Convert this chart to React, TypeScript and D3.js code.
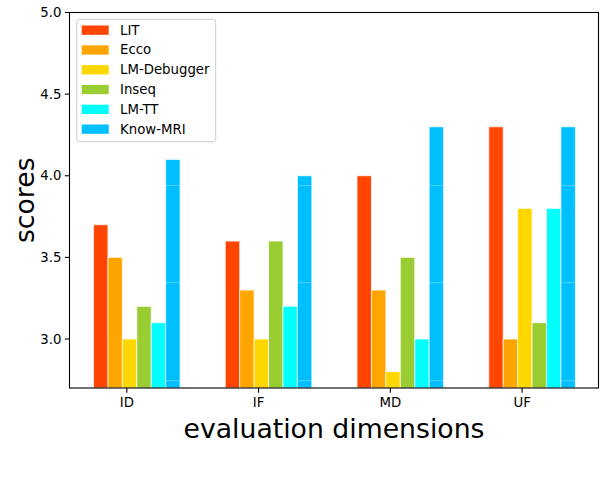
import React from 'react';
import * as d3 from 'd3';

// categories / series
const dimensions = ['ID', 'IF', 'MD', 'UF'];
const tools = ['LIT', 'Ecco', 'LM-Debugger', 'Inseq', 'LM-TT', 'Know-MRI'];
const colors = ['#FF4500', '#FFA500', '#FFD700', '#9ACD32', '#00FFFF', '#00BFFF'];

// scores per tool, in order of dimensions
const litScores = [3.7, 3.6, 4.0, 4.3];
const eccoScores = [3.5, 3.3, 3.3, 3.0];
const lmDebuggerScores = [3.0, 3.0, 2.8, 3.8];
const inseqScores = [3.2, 3.6, 3.5, 3.1];
const lmttScores = [3.1, 3.2, 3.0, 3.8];
const knowMriScores = [4.1, 4.0, 4.3, 4.3];
const seriesScores = [litScores, eccoScores, lmDebuggerScores, inseqScores, lmttScores, knowMriScores];

// faint seams visible inside the Know-MRI bars
const knowMriSeams = [2.745, 3.345, 3.94];

const yTicks = [3.0, 3.5, 4.0, 4.5, 5.0];

const App: React.FC = () => {
  const width = 605;
  const height = 490;
  const marginLeft = 69.5;
  const marginRight = 6.5;
  const marginTop = 12.5;
  const marginBottom = 102;

  const barWidth = 0.1095; // in group units
  const firstOffset = -0.198; // LIT bar center relative to tick

  const x = d3.scaleLinear()
    .domain([-0.435, 3.58])
    .range([marginLeft, width - marginRight]);

  const y = d3.scaleLinear()
    .domain([2.7, 5.0])
    .range([height - marginBottom, marginTop]);

  const font = '"DejaVu Sans", sans-serif';
  const bw = x(barWidth) - x(0);
  const plotBottom = height - marginBottom;

  return (
    <svg width={width} height={height} style={{ position: 'absolute', left: 0, top: 0 }} fontFamily={font}>
      <rect x={0} y={0} width={width} height={height} fill="#fff" />

      {/* bars */}
      {seriesScores.map((scores, si) => (
        <g key={tools[si]}>
          {scores.map((v, gi) => {
            const cx = x(gi + firstOffset + si * barWidth);
            return (
              <rect
                key={gi}
                x={cx - bw / 2}
                y={y(v)}
                width={bw}
                height={plotBottom - y(v)}
                fill={colors[si]}
                stroke="#fff"
                strokeOpacity={0.7}
                strokeWidth={1}
              />
            );
          })}
        </g>
      ))}

      {/* seams in Know-MRI bars */}
      {knowMriScores.map((v, gi) => {
        const cx = x(gi + firstOffset + 5 * barWidth);
        return knowMriSeams.filter((s) => s < v).map((s, k) => (
          <line key={`${gi}-${k}`} x1={cx - bw / 2 + 0.5} x2={cx + bw / 2 - 0.5} y1={y(s)} y2={y(s)}
            stroke="#fff" strokeOpacity={0.3} strokeWidth={1} />
        ));
      })}

      {/* frame */}
      <rect x={marginLeft} y={marginTop} width={width - marginRight - marginLeft} height={plotBottom - marginTop}
        fill="none" stroke="#000" strokeWidth={1.1} />

      {/* y axis */}
      {yTicks.map((t) => (
        <g key={t} transform={`translate(${marginLeft},${y(t)})`}>
          <line x1={-4.7} x2={0} stroke="#000" strokeWidth={1.1} />
          <text x={-8} dy="0.35em" textAnchor="end" fontSize={13.3} fill="#000">{t.toFixed(1)}</text>
        </g>
      ))}

      {/* x axis */}
      {dimensions.map((d, i) => (
        <g key={d} transform={`translate(${x(i)},${plotBottom})`}>
          <line y1={0} y2={4.7} stroke="#000" strokeWidth={1.1} />
          <text y={9} dy="0.76em" textAnchor="middle" fontSize={13.3} fill="#000">{d}</text>
        </g>
      ))}

      {/* axis titles */}
      <text x={(marginLeft + width - marginRight) / 2} y={438} textAnchor="middle" fontSize={26.7} fill="#000">
        evaluation dimensions
      </text>
      <text transform={`translate(34,${(marginTop + plotBottom) / 2}) rotate(-90)`} textAnchor="middle" fontSize={26.7} fill="#000">
        scores
      </text>

      {/* legend */}
      <g>
        <rect x={76.7} y={19.3} width={139} height={122.4} rx={3} fill="#fff" fillOpacity={0.8} stroke="#ccc" strokeWidth={1} />
        {tools.map((t, i) => (
          <g key={t} transform={`translate(81.7,${30 + i * 19.8})`}>
            <rect x={0} y={-4.5} width={27} height={9.3} fill={colors[i]} />
            <text x={38.3} dy="0.35em" fontSize={13.3} fill="#000">{t}</text>
          </g>
        ))}
      </g>
    </svg>
  );
};

export default App;
